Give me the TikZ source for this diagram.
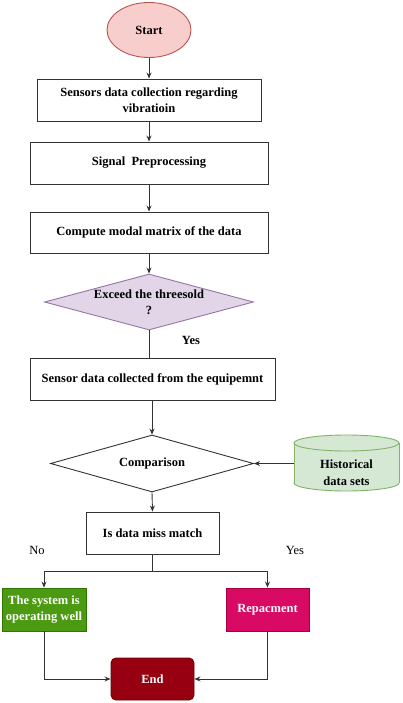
\documentclass[tikz,border=0pt]{standalone}
\usepackage{fontspec}
\setmainfont{Liberation Serif}
\usetikzlibrary{shapes.geometric,arrows.meta}
\definecolor{startfill}{HTML}{F8CECC}
\definecolor{startdraw}{HTML}{B85450}
\definecolor{purfill}{HTML}{E1D5E7}
\definecolor{purdraw}{HTML}{9673A6}
\definecolor{grnfill}{HTML}{D5E8D4}
\definecolor{grndraw}{HTML}{82B366}
\definecolor{okfill}{HTML}{4C9A12}
\definecolor{okdraw}{HTML}{2D7600}
\definecolor{repfill}{HTML}{D80A63}
\definecolor{repdraw}{HTML}{A50040}
\definecolor{endfill}{HTML}{960010}
\definecolor{enddraw}{HTML}{6F0000}
\definecolor{linec}{HTML}{333333}
\tikzset{
  txt/.style={font=\fontsize{12.5}{16}\selectfont\bfseries, align=center, text=black},
  box/.style={txt, draw=linec, line width=0.9pt, rectangle, inner sep=0pt},
  dec/.style={txt, draw=linec, line width=0.9pt, diamond, inner sep=0pt},
  colbox/.style={txt, text=white, rectangle, inner sep=0pt, line width=0.9pt},
  arr/.style={draw=linec, line width=0.9pt, -{Stealth[length=6pt,width=5pt]}},
  ln/.style={draw=linec, line width=0.9pt},
  lbl/.style={font=\fontsize{12.5}{15}\selectfont, text=black},
}
\begin{document}
\begin{tikzpicture}[x=1pt,y=-1pt]
\useasboundingbox (0,0) rectangle (403,703);
\node[txt, ellipse, draw=startdraw, fill=startfill, line width=0.9pt, minimum width=84pt, minimum height=55pt, inner sep=0pt] (start) at (149,30) {Start};
\node[box, minimum width=224pt, minimum height=42pt] (b1) at (149,100) {Sensors data collection regarding\\vibratioin};
\node[box, minimum width=238pt, minimum height=42pt] (b2) at (149,163) {Signal\ \ Preprocessing};
\node[box, minimum width=238pt, minimum height=41pt] (b3) at (149,232.5) {Compute modal matrix of the data};
\node[dec, fill=purfill, draw=purdraw, aspect=3.7, minimum width=209pt, minimum height=56pt] (d1) at (149,302) {Exceed the threesold\\?};
\node[txt] (yes1) at (191,340) {Yes};
\node[box, minimum width=245pt, minimum height=42pt] (b4) at (152.5,379) {Sensor data collected from the equipemnt};
\node[dec, aspect=3.56, minimum width=203pt, minimum height=57pt] (d2) at (152,463.5) {Comparison};
% cylinder
\fill[grnfill, draw=grndraw, line width=0.9pt] (346.5,483) ellipse [x radius=52.5, y radius=8];
\fill[grnfill] (294,443) rectangle (399,483);
\draw[grndraw, line width=0.9pt] (294,443) -- (294,483) (399,443) -- (399,483);
\fill[grnfill, draw=grndraw, line width=0.9pt] (346.5,443) ellipse [x radius=52.5, y radius=8];
\node[txt, font=\fontsize{12.5}{17}\selectfont\bfseries, rectangle, inner sep=0pt, minimum width=105pt, minimum height=40pt] (hist) at (346.5,473) {Historical\\data sets};
\node[box, minimum width=133pt, minimum height=42pt] (b5) at (152.5,533) {Is data miss match};
\node[lbl] (no) at (37,550) {No};
\node[lbl] (yes2) at (295,550) {Yes};
\coordinate (j) at (152.5,571);
\node[colbox, fill=okfill, draw=okdraw, minimum width=84pt, minimum height=43pt] (ok) at (44,609.5) {The system is\\operating well};
\node[colbox, fill=repfill, draw=repdraw, minimum width=83pt, minimum height=43pt] (rep) at (267.5,609.5) {Repacment};
\node[colbox, fill=endfill, draw=enddraw, rounded corners=5pt, minimum width=83pt, minimum height=42pt] (end) at (152.5,679) {End};
% connectors
\draw[arr] (start) -- (b1);
\draw[arr] (b1) -- (b2);
\draw[arr] (b2) -- (b3);
\draw[arr] (b3.south) -- (d1.north);
\draw[ln] (d1.south) -- (d1.south |- b4.north);
\draw[arr] (b4.south -| d2.north) -- (d2.north);
\draw[arr] (hist.west |- d2.east) -- (d2.east);
\draw[arr] (d2.south) -- (b5.north);
\draw[ln] (b5.south) -- (j);
\draw[arr] (j) -| (ok.north);
\draw[arr] (j) -| (rep.north);
\draw[arr] (ok.south) |- (end.west);
\draw[arr] (rep.south) |- (end.east);
\end{tikzpicture}
\end{document}
